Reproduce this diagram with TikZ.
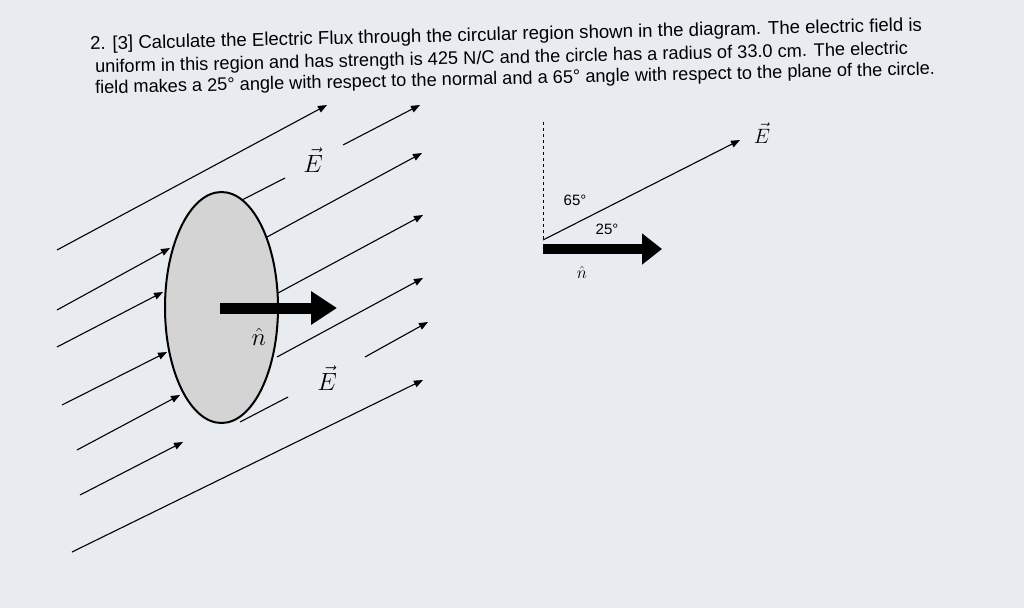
\documentclass[tikz,border=0pt]{standalone}
\usepackage{fontspec}
\setmainfont{Liberation Sans}
\usetikzlibrary{arrows.meta}
\definecolor{paper}{RGB}{232,236,240}
\tikzset{
	fieldline/.style={line width=1.1pt, -{Triangle[length=9pt,width=7pt]}},
	bare/.style={line width=1.1pt},
	bigarrow/.style={line width=11pt, -{Triangle[length=26pt,width=32pt]}},
	textline/.style={anchor=west, inner sep=0pt, rotate=1.3},
	label/.style={inner sep=1pt, font=\fontsize{26}{26}\selectfont},
	small/.style={inner sep=1pt, font=\fontsize{15}{15}\selectfont}
}
\begin{document}
\begin{tikzpicture}[x=1pt,y=-1pt]
	\fill [paper] (0,0) rectangle (1024,608);
	\useasboundingbox (0,0) rectangle (1024,608);
	
	% question text
	\node [textline] (q1) at (90,45) {\resizebox{832pt}{!}{2. [3] Calculate the Electric Flux through the circular region shown in the diagram. The electric field is}};
	\node [textline] (q2) at (95,68) {\resizebox{813pt}{!}{uniform in this region and has strength is 425 N/C and the circle has a radius of 33.0 cm. The electric}};
	\node [textline] (q3) at (95,89) {\resizebox{840pt}{!}{field makes a 25° angle with respect to the normal and a 65° angle with respect to the plane of the circle.}};
	
	% the circle seen edge on
	\draw [line width=2pt, fill=black!17] (221.5,307.5) ellipse [x radius=56.5, y radius=115.5];
	
	% field lines
	\foreach \s/\t/\u/\v in {57/250/327/105, 343/145/420/105, 267/237/422/153, 278/293/423/215, 277/357/423/278, 365/357/428/322, 72/552/423/380, 57/310/170/248, 57/347/163/292, 62/405/167/352, 77/450/180/395, 80/495/183/442}
	{
		\draw [fieldline] (\s,\t) -- (\u,\v);
	}
	\draw [bare] (242,200) -- (285,178);
	\draw [bare] (240,422) -- (288,397);
	
	\draw [bigarrow] (220,308) -- (337,308);
	\node [label] (n1) at (259,337) {$\hat{n}$};
	\node [label] (e1) at (313,160) {$\vec{E}$};
	\node [label] (e2) at (327,378) {$\vec{E}$};
	
	% angle sketch
	\coordinate (o) at (543,240);
	\draw [dashed, line width=1pt] (543,122) -- (o);
	\draw [fieldline] (o) -- (740,140);
	\node [small, font=\fontsize{20}{20}\selectfont] (e3) at (762,133) {$\vec{E}$};
	\node [small] (a65) at (575,200) {65°};
	\node [small] (a25) at (607,229) {25°};
	\draw [bigarrow, line width=10pt, -{Triangle[length=20pt,width=30pt]}] (543,249) -- (662,249);
	\node [small, font=\fontsize{18}{18}\selectfont] (n2) at (582,272) {$\hat{n}$};
\end{tikzpicture}
\end{document}
